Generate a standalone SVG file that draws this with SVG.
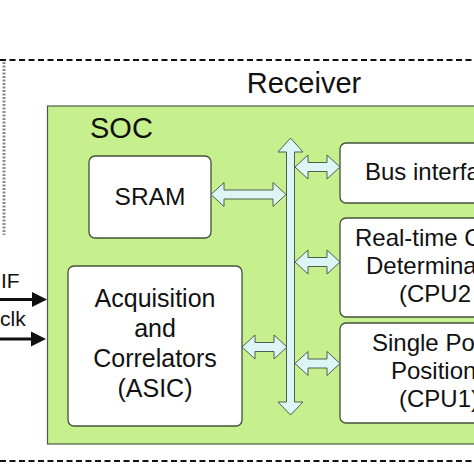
<svg xmlns="http://www.w3.org/2000/svg" width="474" height="474" viewBox="0 0 474 474">
<style>
text{font-family:"Liberation Sans",Arial,sans-serif;fill:#111}
.box{fill:#fff;stroke:#44513a;stroke-width:1.3}
.bus{fill:#dcf6f6;stroke:#4d5e4e;stroke-width:1}
.big{font-size:29px}
.mid{font-size:25px}
.sm{font-size:24px}
.io{font-size:21px}
</style>
<rect width="474" height="474" fill="#fff"/>
<g id="receiver">
<line x1="0" y1="60" x2="474" y2="60" stroke="#111" stroke-width="2" stroke-dasharray="6 3.5"/>
<line x1="4" y1="62" x2="4" y2="235" stroke="#8a8a8a" stroke-width="3" stroke-dasharray="2 1.5"/>
<line x1="0" y1="461" x2="474" y2="461" stroke="#111" stroke-width="2" stroke-dasharray="6 3.5"/>
<text class="big" x="304" y="93" text-anchor="middle">Receiver</text>
</g>
<g id="soc">
<rect x="47.5" y="106" width="440" height="338" fill="#c6ef8e" stroke="#4a5a42" stroke-width="1.2"/>
<text class="big" x="90" y="138">SOC</text>
</g>
<g id="sram">
<rect class="box" x="89" y="156" width="122" height="82" rx="6"/>
<text class="mid" x="150" y="205" text-anchor="middle" style="font-size:24.5px">SRAM</text>
</g>
<g id="asic">
<rect class="box" x="68" y="266" width="174" height="160" rx="6"/>
<text class="mid" x="155" y="307" text-anchor="middle">Acquisition</text>
<text class="mid" x="155" y="337" text-anchor="middle">and</text>
<text class="mid" x="155" y="367" text-anchor="middle">Correlators</text>
<text class="mid" x="155" y="397" text-anchor="middle">(ASIC)</text>
</g>
<g id="businterface">
<rect class="box" x="340" y="143" width="200" height="60" rx="6"/>
<text class="sm" x="365" y="180">Bus interfa</text>
</g>
<g id="cpu2">
<rect class="box" x="340" y="218" width="200" height="99" rx="6"/>
<text class="sm" x="355" y="246">Real-time C</text>
<text class="sm" x="366" y="274">Determina</text>
<text class="sm" x="399" y="302">(CPU2</text>
</g>
<g id="cpu1">
<rect class="box" x="340" y="323" width="200" height="100" rx="6"/>
<text class="sm" x="372" y="351">Single Po</text>
<text class="sm" x="391" y="379">Position</text>
<text class="sm" x="399" y="407">(CPU1)</text>
</g>
<g id="inputs">
<text class="io" x="1" y="288">IF</text>
<text class="io" x="0" y="326">clk</text>
</g>
<g id="connectors">
<line x1="0" y1="299.5" x2="34" y2="299.5" stroke="#111" stroke-width="3.2"/>
<polygon points="47,299.5 32,292 32,307" fill="#111"/>
<line x1="0" y1="339" x2="34" y2="339" stroke="#111" stroke-width="3.2"/>
<polygon points="46,339 31,331.5 31,346.5" fill="#111"/>
<path class="bus" d="M290.5,138 L303,152 L294.5,152 L294.5,402 L303,402 L290.5,415 L278,402 L286.5,402 L286.5,152 L278,152 Z"/>
<path class="bus" d="M211,194.5 L224,182.5 L224,190 L273,190 L273,182.5 L286,194.5 L273,206.5 L273,199 L224,199 L224,206.5 Z"/>
<path class="bus" d="M295,167 L308,155 L308,162.5 L327,162.5 L327,155 L340,167 L327,179 L327,171.5 L308,171.5 L308,179 Z"/>
<path class="bus" d="M295,262 L308,250 L308,257.5 L327,257.5 L327,250 L340,262 L327,274 L327,266.5 L308,266.5 L308,274 Z"/>
<path class="bus" d="M242,347 L255,335 L255,342.5 L274,342.5 L274,335 L287,347 L274,359 L274,351.5 L255,351.5 L255,359 Z"/>
<path class="bus" d="M295,363.5 L308,351.5 L308,359 L327,359 L327,351.5 L340,363.5 L327,375.5 L327,368 L308,368 L308,375.5 Z"/>
</g>
</svg>
